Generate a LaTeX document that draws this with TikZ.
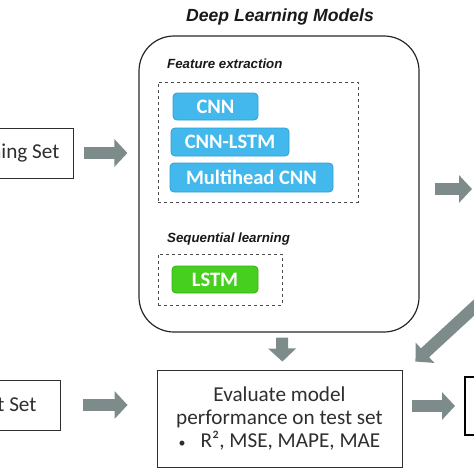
\documentclass[tikz,border=0pt]{standalone}
\usepackage{fontspec}
\setmainfont{Carlito}
\newfontfamily\arialfont{Liberation Sans}
\usetikzlibrary{arrows.meta,calc}
\definecolor{arrowgray}{HTML}{7E8B8B}
\definecolor{boxblue}{HTML}{42B8EC}
\definecolor{boxblueb}{HTML}{2E9FD3}
\definecolor{boxgreen}{HTML}{47CF1F}
\definecolor{boxgreenb}{HTML}{36AD14}
\definecolor{txtgray}{HTML}{2E2E2E}
\tikzset{
  blockarrow/.style={draw=arrowgray, line width=12pt, -{Triangle[width=27pt,length=13pt]}},
  plainbox/.style={draw=txtgray, line width=0.9pt, text=txtgray, font=\fontsize{21.2}{23}\selectfont, align=center, inner sep=0pt},
  modelbox/.style={rounded corners=4pt, line width=0.8pt, text=white, font=\bfseries\fontsize{20.5}{22}\selectfont, inner sep=0pt},
  bluebox/.style={modelbox, fill=boxblue, draw=boxblueb},
  greenbox/.style={modelbox, fill=boxgreen, draw=boxgreenb},
  dashbox/.style={draw=black!70, line width=1pt, dash pattern=on 3pt off 3pt, inner sep=0pt},
  grouplabel/.style={font=\arialfont\bfseries\itshape\fontsize{13.3}{15}\selectfont, text=black!90, anchor=west, inner sep=0pt},
}
\begin{document}
\begin{tikzpicture}[x=1pt,y=-1pt]
\useasboundingbox (0,0) rectangle (474,474);
\node[font=\arialfont\bfseries\itshape\fontsize{17.6}{20}\selectfont, text=black!90, inner sep=0pt] (title) at (280,17) {Deep Learning Models};
\node[draw=black!85, line width=1.2pt, rounded corners=35pt, minimum width=280pt, minimum height=296pt, inner sep=0pt] (dlm) at (279,184) {};
\node[grouplabel] (fe) at (167,64) {Feature extraction};
\node[dashbox, minimum width=200pt, minimum height=120pt] (dash1) at (258,142) {};
\node[bluebox, minimum width=85pt, minimum height=27pt] (cnn) at (215.5,106.5) {CNN};
\node[bluebox, minimum width=118pt, minimum height=28pt] (cnnlstm) at (230,142) {CNN-LSTM};
\node[bluebox, minimum width=163pt, minimum height=29pt] (mhcnn) at (251.5,177.5) {Multihead CNN};
\node[grouplabel] (seq) at (167,239) {Sequential learning};
\node[dashbox, minimum width=124pt, minimum height=51pt] (dash2) at (220,279.5) {};
\node[greenbox, minimum width=86pt, minimum height=27pt] (lstm) at (215,279.5) {LSTM};
\node[plainbox, anchor=east, minimum height=50pt, inner xsep=14pt] (train) at (74,153) {Training Set};
\node[plainbox, anchor=east, minimum height=50pt, inner xsep=24pt] (test) at (61,405) {Test Set};
\node[plainbox, minimum width=245pt, minimum height=97pt] (eval) at (279.5,418.5) {Evaluate model\\performance on test set\\{\fontsize{14}{14}\selectfont\textbullet}\hspace{15pt}R²,~MSE,~MAPE,~MAE};
\node[draw=black, line width=2pt, anchor=west, minimum width=40pt, minimum height=58pt, inner sep=0pt] (result) at (464,406) {};
\coordinate (outtop) at (472,189);
\coordinate (diagsrc) at (505,279);
\draw[blockarrow, shorten <=10pt, shorten >=11pt] (train.east) -- (train.east -| dlm.west);
\draw[blockarrow, shorten <=15pt] (dlm.east |- outtop) -- (outtop);
\draw[blockarrow, shorten <=5pt, shorten >=8pt] ([xshift=3pt]dlm.south) -- ([xshift=3pt]eval.north);
\draw[blockarrow] (diagsrc) -- ([shift={(13,-8)}]eval.north east);
\draw[blockarrow, shorten <=22pt, shorten >=29pt] (test.east) -- (test.east -| eval.west);
\draw[blockarrow, shorten <=10pt, shorten >=9pt] (eval.east |- result.west) -- (result.west);
\end{tikzpicture}
\end{document}
